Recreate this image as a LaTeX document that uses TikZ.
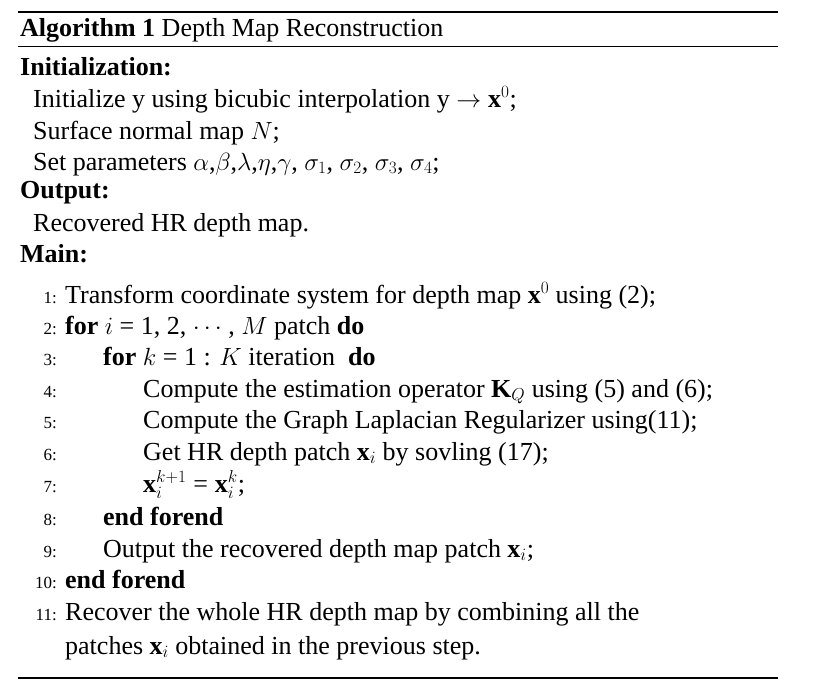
\documentclass[tikz,border=0pt]{standalone}
\usepackage{fontspec}
\setmainfont{Liberation Serif}
\begin{document}
\begin{tikzpicture}[x=1pt,y=-1pt,
  txt/.style={anchor=base west,inner sep=0pt,font=\fontsize{26}{30}\selectfont},
  num/.style={anchor=base east,inner sep=0pt,font=\fontsize{17}{20}\selectfont}]
\useasboundingbox (0,0) rectangle (815,694);
\draw[line width=1.4pt] (18,12) -- (778,12);
\draw[line width=0.8pt] (18,46) -- (778,46);
\draw[line width=1.4pt] (18,678) -- (778,678);
\node[txt] (t) at (20,36) {\textbf{Algorithm 1} Depth Map Reconstruction};
\node[txt] (h1) at (20,75) {\textbf{Initialization:}};
\node[txt] (a1) at (33,107) {Initialize y using bicubic interpolation y $\rightarrow\mathbf{x}^0$;};
\node[txt] (a2) at (33,139) {Surface normal map $N$;};
\node[txt] (a3) at (33,170) {Set parameters $\alpha$,$\beta$,$\lambda$,$\eta$,$\gamma$, $\sigma_1$, $\sigma_2$, $\sigma_3$, $\sigma_4$;};
\node[txt] (h2) at (20,198) {\textbf{Output:}};
\node[txt] (a4) at (33,231) {Recovered HR depth map.};
\node[txt] (h3) at (20,262) {\textbf{Main:}};
\foreach \n/\y in {1/303,2/334,3/365,4/397,5/428,6/460,7/492,8/525,9/557,10/588,11/620}
  \node[num] (n\n) at (57,\y) {\n:};
\node[txt] (l1) at (65,303) {Transform coordinate system for depth map $\mathbf{x}^0$ using (2);};
\node[txt] (l2) at (65,334) {\textbf{for} $i$ = 1, 2, $\cdots$ , $M$ patch \textbf{do}};
\node[txt] (l3) at (103,365) {\textbf{for} $k$ = 1 : $K$ iteration \ \textbf{do}};
\node[txt] (l4) at (143,397) {Compute the estimation operator $\mathbf{K}_Q$ using (5) and (6);};
\node[txt] (l5) at (143,428) {Compute the Graph Laplacian Regularizer using(11);};
\node[txt] (l6) at (143,460) {Get HR depth patch $\mathbf{x}_i$ by sovling (17);};
\node[txt] (l7) at (143,492) {$\mathbf{x}_i^{k+1}\;$=$\;\mathbf{x}_i^k$;};
\node[txt] (l8) at (103,525) {\textbf{end forend}};
\node[txt] (l9) at (103,557) {Output the recovered depth map patch $\mathbf{x}_i$;};
\node[txt] (l10) at (65,588) {\textbf{end forend}};
\node[txt] (l11) at (65,620) {Recover the whole HR depth map by combining all the};
\node[txt] (l12) at (65,654) {patches $\mathbf{x}_i$ obtained in the previous step.};
\end{tikzpicture}
\end{document}
